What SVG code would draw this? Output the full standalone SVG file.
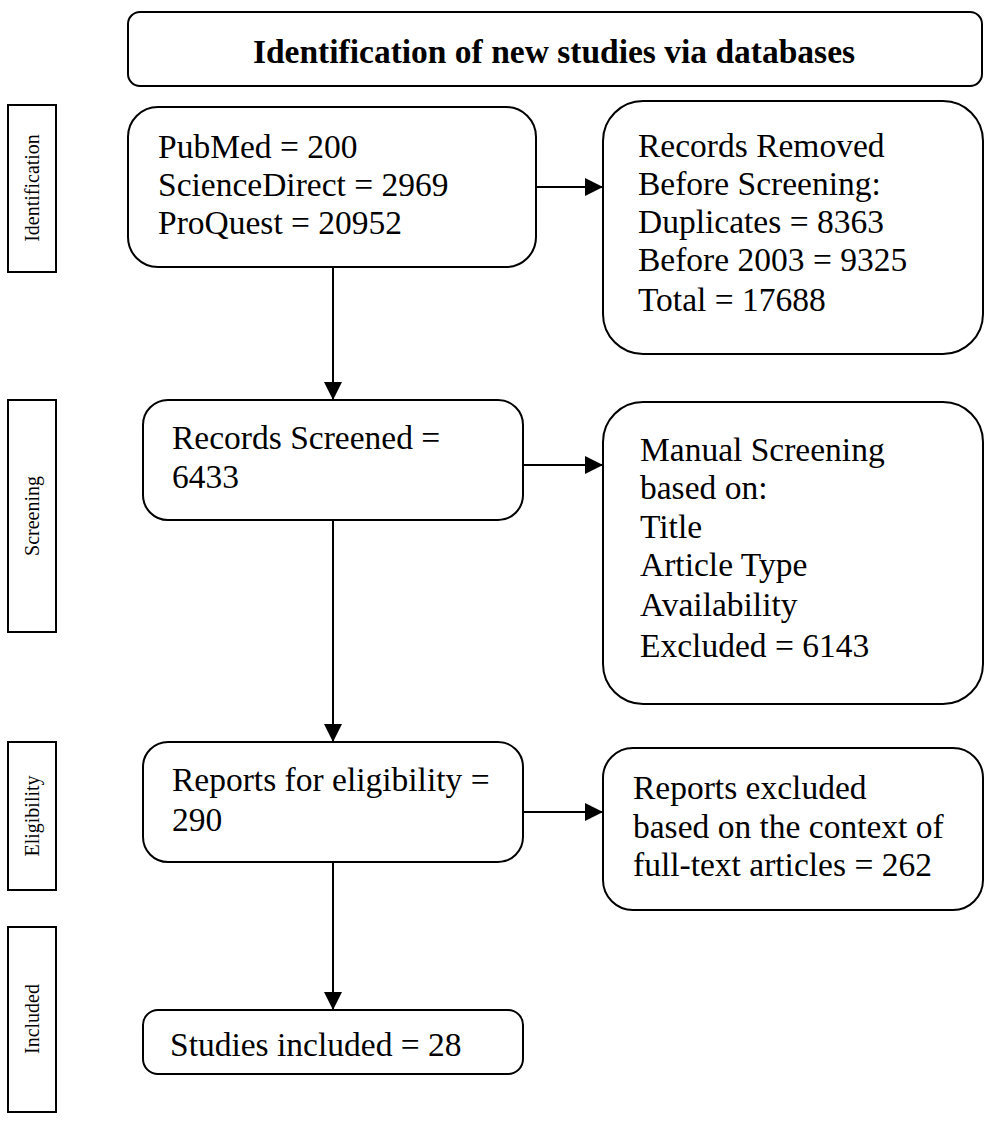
<svg xmlns="http://www.w3.org/2000/svg" width="986" height="1128" viewBox="0 0 986 1128">
<style>
.b{fill:#fff;stroke:#000;stroke-width:2}
.t{font-family:"Liberation Serif",serif;font-size:33.5px;fill:#000}
.s{font-family:"Liberation Serif",serif;font-size:20px;fill:#000}
.c line{stroke:#000;stroke-width:2}
</style>
<defs>
<marker id="ah" markerWidth="18" markerHeight="18" refX="18" refY="9" orient="auto" markerUnits="userSpaceOnUse" viewBox="0 0 18 18"><path d="M0,0L18,9L0,18z" fill="#000"/></marker></defs>
<rect width="986" height="1128" fill="#fff"/>
<g id="title"><rect class="b" x="128" y="12" width="854" height="74" rx="12"/><text class="t" x="554" y="63" text-anchor="middle" font-weight="bold" font-size="40.5">Identification of new studies via databases</text></g>
<g id="lab1"><rect class="b" x="8" y="105" width="48" height="167"/><text class="s" transform="translate(39,188) rotate(-90)" text-anchor="middle">Identification</text></g>
<g id="lab2"><rect class="b" x="8" y="400" width="48" height="232"/><text class="s" transform="translate(39,516) rotate(-90)" text-anchor="middle">Screening</text></g>
<g id="lab3"><rect class="b" x="8" y="742" width="48" height="148"/><text class="s" transform="translate(39,816) rotate(-90)" text-anchor="middle">Eligibility</text></g>
<g id="lab4"><rect class="b" x="8" y="927" width="48" height="185"/><text class="s" transform="translate(39,1019) rotate(-90)" text-anchor="middle">Included</text></g>
<g id="n1"><rect class="b" x="128" y="107" width="408" height="160" rx="30"/><text class="t" x="158" y="158">PubMed = 200</text><text class="t" x="158" y="196">ScienceDirect = 2969</text><text class="t" x="158" y="234">ProQuest = 20952</text></g>
<g id="r1"><rect class="b" x="603" y="101" width="380" height="253" rx="40"/><text class="t" x="638" y="157">Records Removed</text><text class="t" x="638" y="195">Before Screening:</text><text class="t" x="638" y="233">Duplicates = 8363</text><text class="t" x="638" y="271">Before 2003 = 9325</text><text class="t" x="638" y="311">Total = 17688</text></g>
<g id="n2"><rect class="b" x="143" y="400" width="380" height="120" rx="25"/><text class="t" x="172" y="449">Records Screened =</text><text class="t" x="172" y="488">6433</text></g>
<g id="r2"><rect class="b" x="603" y="402" width="380" height="302" rx="40"/><text class="t" x="640" y="461">Manual Screening</text><text class="t" x="640" y="499">based on:</text><text class="t" x="640" y="538">Title</text><text class="t" x="640" y="576">Article Type</text><text class="t" x="640" y="616">Availability</text><text class="t" x="640" y="657">Excluded = 6143</text></g>
<g id="n3"><rect class="b" x="143" y="742" width="380" height="120" rx="25"/><text class="t" x="172" y="791">Reports for eligibility =</text><text class="t" x="172" y="831">290</text></g>
<g id="r3"><rect class="b" x="603" y="748" width="380" height="162" rx="30"/><text class="t" x="633" y="799">Reports excluded</text><text class="t" x="633" y="838">based on the context of</text><text class="t" x="633" y="876">full-text articles = 262</text></g>
<g id="n4"><rect class="b" x="143" y="1010" width="380" height="64" rx="15"/><text class="t" x="170" y="1056">Studies included = 28</text></g>
<g class="c" id="connectors">
<line x1="536" y1="187" x2="603" y2="187" marker-end="url(#ah)"/>
<line x1="333" y1="267" x2="333" y2="400" marker-end="url(#ah)"/>
<line x1="523" y1="465" x2="603" y2="465" marker-end="url(#ah)"/>
<line x1="333" y1="520" x2="333" y2="742" marker-end="url(#ah)"/>
<line x1="523" y1="812" x2="603" y2="812" marker-end="url(#ah)"/>
<line x1="333" y1="862" x2="333" y2="1010" marker-end="url(#ah)"/>
</g>
</svg>
